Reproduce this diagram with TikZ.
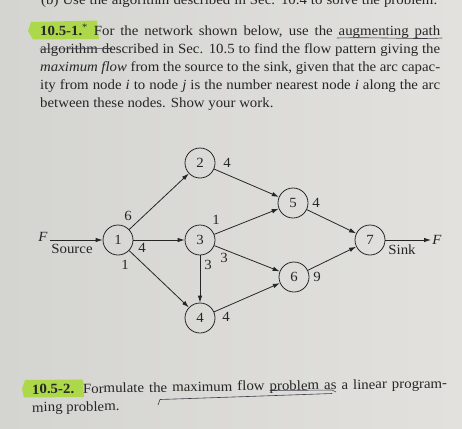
\documentclass[tikz,border=0pt]{standalone}
\usepackage{fontspec}
\setmainfont[FakeStretch=1.06]{Liberation Serif}
\usetikzlibrary{arrows.meta}
\definecolor{paperL}{RGB}{212,212,209}
\definecolor{paperR}{RGB}{226,225,222}
\definecolor{ink}{RGB}{38,38,38}
\definecolor{hl}{RGB}{172,216,74}
\definecolor{pen}{RGB}{62,62,72}
\begin{document}
\begin{tikzpicture}[x=1pt,y=-1pt,
  every node/.style={text=ink},
  txt/.style={anchor=base west,inner sep=0pt,font=\fontsize{14}{17}\selectfont},
  vtx/.style={circle,draw=ink,line width=0.8pt,minimum size=30pt,inner sep=0pt,font=\fontsize{14}{17}\selectfont},
  lbl/.style={inner sep=0pt,font=\fontsize{14}{17}\selectfont},
  arc/.style={draw=ink,line width=0.8pt,-{Latex[length=7pt,width=4.5pt]}},
  penline/.style={draw=pen,line width=0.6pt,line cap=round}]
\useasboundingbox (0,0) rectangle (462,428);
\clip (0,0) rectangle (462,428);
\shade[left color=paperL,right color=paperR] (0,0) rectangle (462,428);
% highlighter
\fill[hl] (31,22) -- (97,20.5) -- (99,39) -- (33,39.5) -- (28,31) -- cycle;
\fill[hl] (25,380) -- (83,379.5) -- (84,397) -- (24,397.5) -- (22,389) -- cycle;
% top cut-off line
\node[txt] at (41,5) {\makebox[396pt][s]{(b) Use the algorithm described in Sec. 10.4 to solve the problem.}};
% problem 10.5-1
\node[txt] at (40,35.5) {\makebox[400pt][s]{\textbf{10.5-1.}\textsuperscript{*} For the network shown below, use the augmenting path}};
\node[txt] at (40,53) {\makebox[400pt][s]{algorithm described in Sec. 10.5 to find the flow pattern giving the}};
\node[txt] at (40,71) {\makebox[400pt][s]{\textit{maximum flow} from the source to the sink, given that the arc capac-}};
\node[txt] at (40,89) {\makebox[400pt][s]{ity from node \textit{i} to node \textit{j} is the number nearest node \textit{i} along the arc}};
\node[txt] at (40,107) {between these nodes. Show your work.};
% pen marks
\draw[penline] (337,38) .. controls (380,37) and (415,39.5) .. (442,38);
\draw[penline] (40,49) -- (112,48.5);
% network
\node[vtx] (n1) at (118,240) {1};
\node[vtx] (n2) at (200,163) {2};
\node[vtx] (n3) at (200,240) {3};
\node[vtx] (n4) at (200,318) {4};
\node[vtx] (n5) at (293,203) {5};
\node[vtx] (n6) at (294,277) {6};
\node[vtx] (n7) at (370,240) {7};
\coordinate (srcL) at (50,240);
\coordinate (sinkR) at (431,240);
\draw[arc] (srcL) -- (n1);
\draw[arc] (n1) -- (n2);
\draw[arc] (n1) -- (n3);
\draw[arc] (n1) -- (n4);
\draw[arc] (n2) -- (n5);
\draw[arc] (n3) -- (n5);
\draw[arc] (n3) -- (n6);
\draw[arc] (n3) -- (n4);
\draw[arc] (n4) -- (n6);
\draw[arc] (n5) -- (n7);
\draw[arc] (n6) -- (n7);
\draw[arc] (n7) -- (sinkR);
\node[lbl] (fin) at (43,237) {\textit{F}};
\node[lbl] (fout) at (437,240) {\textit{F}};
\node[lbl] (src) at (72,249) {Source};
\node[lbl] (snk) at (402,250) {Sink};
\node[lbl] (c12) at (128,216) {6};
\node[lbl] (c13) at (142,248) {4};
\node[lbl] (c14) at (125,265) {1};
\node[lbl] (c25) at (227,163) {4};
\node[lbl] (c35) at (216,220) {1};
\node[lbl] (c34) at (208,265) {3};
\node[lbl] (c36) at (224,258) {3};
\node[lbl] (c46) at (226,317) {4};
\node[lbl] (c57) at (316,203) {4};
\node[lbl] (c67) at (317,277) {9};
% problem 10.5-2
\node[txt,rotate=0.85] at (32,394) {\makebox[415pt][s]{\textbf{10.5-2.} Formulate the maximum flow problem as a linear program-}};
\node[txt,rotate=0.85] at (32,412) {ming problem.};
\draw[penline] (270,390.5) -- (332,390) -- (336,392);
\draw[penline] (158,405) -- (160,399.5) .. controls (220,397.5) and (290,395) .. (332,393.5);
\end{tikzpicture}
\end{document}
